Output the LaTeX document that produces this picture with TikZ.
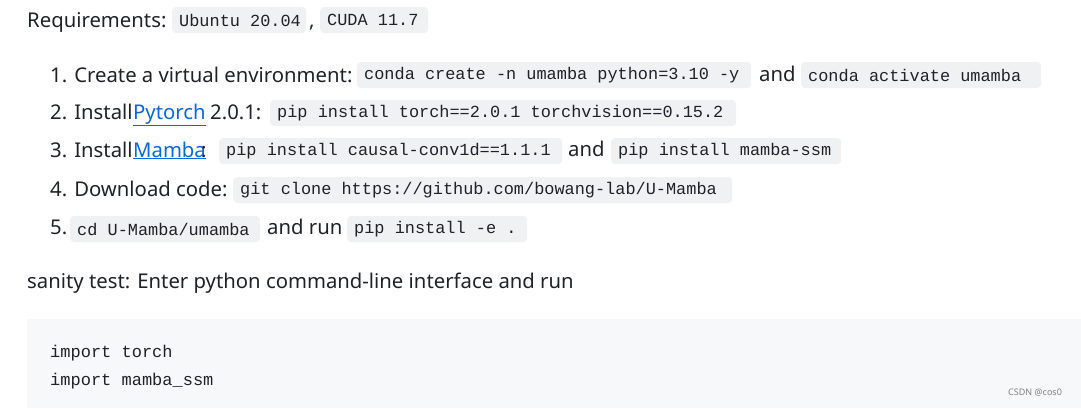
\documentclass[tikz,border=0pt]{standalone}
\usepackage{fontspec}
\setmainfont{Noto Sans}
\setmonofont{Liberation Mono}
\definecolor{fg}{HTML}{1F2328}
\definecolor{codebg}{HTML}{EFF1F3}
\definecolor{blockbg}{HTML}{F6F8FA}
\definecolor{link}{HTML}{0969DA}
\begin{document}
\begin{tikzpicture}[x=1pt,y=-1pt,
  txt/.style={anchor=base west,inner sep=0pt,text=fg,font=\fontsize{20.3}{24}\selectfont},
  lnk/.style={txt,text=link},
  cbox/.style={fill=codebg,rounded corners=4pt,minimum height=26pt,inner sep=0pt,anchor=west},
  ctext/.style={anchor=west,inner sep=0pt,text=fg,font=\fontsize{16.9}{20}\ttfamily},
  codetxt/.style={anchor=west,inner sep=0pt,text=fg,font=\fontsize{17}{20}\ttfamily}]
\useasboundingbox[fill=white] (0,0) rectangle (1081,408);
\newcommand{\cb}[5]{%
  \node[cbox,minimum width=#3pt-#2pt] (#1) at (#2,#4) {};
  \node[ctext] (#1t) at ([xshift=7pt]#1.west) {#5};}
% Requirements
\node[txt] (req) at (27,27) {Requirements:};
\cb{ubu}{172}{306}{20}{Ubuntu 20.04}
\node[txt] (comma) at (309,27) {,};
\cb{cuda}{320}{428}{20}{CUDA 11.7}
% item 1
\node[txt] (i1) at (50,82) {1. Create a virtual environment:};
\cb{c1a}{357}{751}{75}{conda create -n umamba python=3.10 -y}
\node[txt] (and1) at (759,81) {and};
\cb{c1b}{801}{1041}{75}{conda activate umamba}
% item 2
\node[txt] (i2) at (50,119) {2. Install};
\node[lnk] (pt) at (133,119) {\underline{Pytorch}};
\node[txt] (v2) at (210,119) {2.0.1:};
\cb{c2}{270}{736}{113}{pip install torch==2.0.1 torchvision==0.15.2}
% item 3
\node[txt] (i3) at (50,157) {3. Install};
\node[lnk] (mb) at (133,157) {\underline{Mamba}};
\node[txt] (col3) at (201,157) {:};
\cb{c3a}{219}{562}{151}{pip install causal-conv1d==1.1.1}
\node[txt] (and3) at (568,156) {and};
\cb{c3b}{611}{841}{151}{pip install mamba-ssm}
% item 4
\node[txt] (i4) at (50,196) {4. Download code:};
\cb{c4}{233}{732}{190}{git clone https://github.com/bowang-lab/U-Mamba}
% item 5
\node[txt] (i5) at (50,234) {5.};
\cb{c5a}{70}{260}{229}{cd U-Mamba/umamba}
\node[txt] (and5) at (267,234) {and run};
\cb{c5b}{347}{527}{229}{pip install -e .}
% sanity
\node[txt] (san) at (27,288) {sanity test: Enter python command-line interface and run};
\fill[blockbg] (27,319) rectangle (1081,408);
\node[codetxt] (l1) at (50,353) {import torch};
\node[codetxt] (l2) at (50,381) {import mamba\_ssm};
\node[anchor=west,inner sep=0pt,text=gray,font=\fontsize{9}{10}\selectfont] (wm) at (1008,393) {CSDN @cos0};
\end{tikzpicture}
\end{document}
